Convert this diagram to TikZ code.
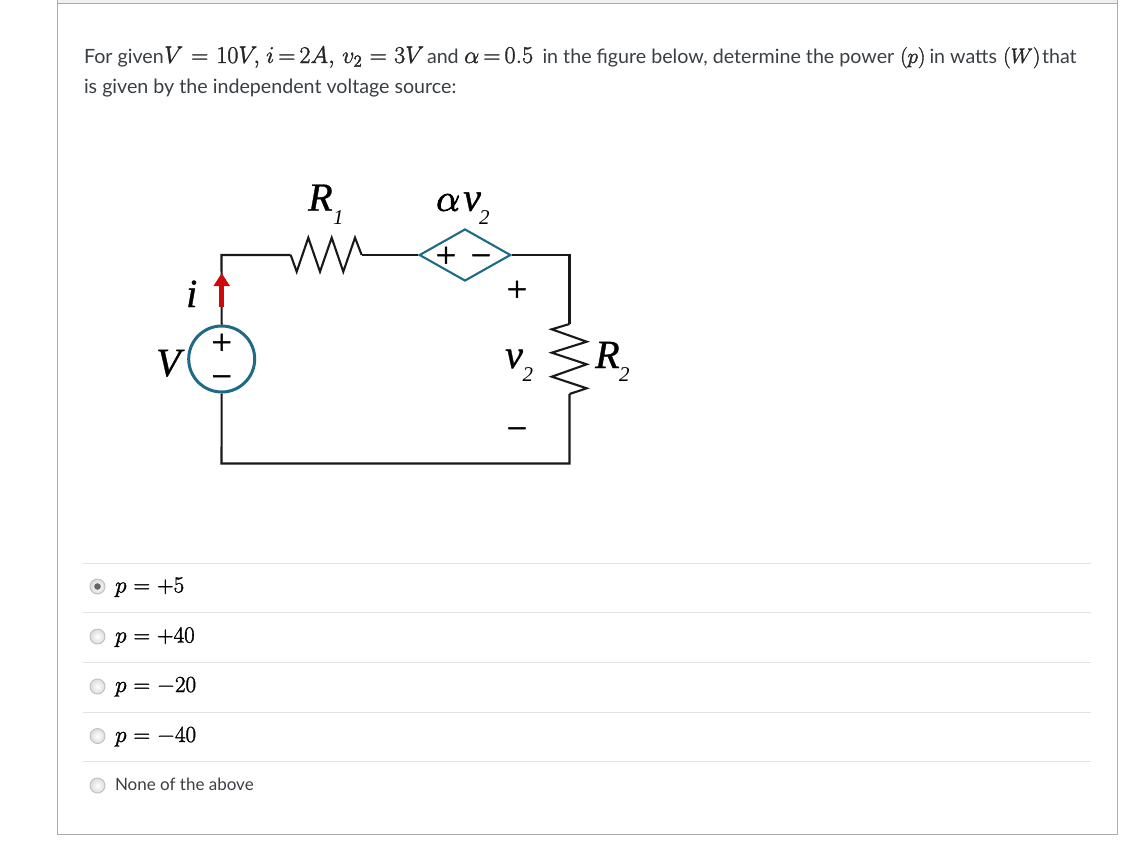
\RequirePackage{fix-cm}
\documentclass[tikz,border=0pt]{standalone}
\usepackage{fontspec}
\setmainfont{Lato}
\newfontfamily\cirfont{Liberation Serif}
\usetikzlibrary{shapes.geometric,arrows.meta}
\definecolor{teal1}{HTML}{1F6B85}
\definecolor{txt}{HTML}{3A3F44}
\definecolor{framec}{HTML}{ABABAB}
\definecolor{rulec}{HTML}{E2E2E2}
\definecolor{redc}{HTML}{CC0A0A}
\newcommand{\heavy}[1]{\special{pdf:literal 2 Tr 0.35 w}#1\special{pdf:literal 0 Tr}}
\newcommand{\heavier}[1]{\special{pdf:literal 2 Tr 0.9 w}#1\special{pdf:literal 0 Tr}}
\tikzset{
  x=1pt,y=-1pt,
  bodytext/.style={anchor=base west,inner sep=0pt,outer sep=0pt,text=txt,font=\fontsize{19.66}{24}\selectfont},
  qmath/.style={anchor=base west,inner sep=0pt,text=black!85,font=\fontsize{24}{26}\selectfont},
  qparen/.style={anchor=base west,inner sep=0pt,text=black!85,font=\fontsize{21}{24}\selectfont},
  optmath/.style={anchor=base west,inner sep=0pt,text=black,font=\fontsize{23}{26}\selectfont},
  optrule/.style={draw=rulec,line width=1pt},
  wire/.style={draw=black!90,line width=2.1pt,line join=miter},
  resist/.style={draw=black!90,line width=2.1pt,line join=miter},
  srcstyle/.style={draw=teal1,line width=3pt,fill=white,circle,minimum size=66pt,inner sep=0pt},
  depstyle/.style={draw=teal1,line width=2.1pt,fill=white,diamond,minimum width=91.5pt,minimum height=52pt,inner sep=0pt,aspect=1.75},
  big/.style={anchor=base west,inner sep=0pt,text=black,font=\cirfont\itshape\fontsize{40}{40}\selectfont},
  sub/.style={anchor=base west,inner sep=0pt,text=black,font=\cirfont\itshape\fontsize{21}{21}\selectfont},
  pm/.style={inner sep=0pt,text=black,font=\cirfont\fontsize{36}{36}\selectfont},
  radio/.style={circle,draw=black!25,line width=0.9pt,inner color=white,outer color=black!14,minimum size=15pt,inner sep=0pt},
}
\begin{document}
\begin{tikzpicture}
\useasboundingbox (0,0) rectangle (1127,841);
\fill[white] (0,0) rectangle (1127,841);
\fill[black!6] (57.5,0) rectangle (1117.5,3.5);
\draw[draw=framec,line width=1pt] (57.5,0) -- (57.5,834.5) -- (1117.5,834.5) -- (1117.5,0);
\draw[draw=framec,line width=1pt] (57.5,3.5) -- (1117.5,3.5);
% question
\node[bodytext] (q1a) at (84,63) {For given};
\node[qmath] (q1b) at (164,63) {\heavy{$\thickmuskip=6mu V=10V,$}};
\node[qmath] (q1c) at (266,63) {\heavy{$\thickmuskip=3mu i=2A,$}};
\node[qmath] (q1d) at (342,63) {\heavy{$\thickmuskip=5.5mu v_2=3V$}};
\node[bodytext] (q1e) at (427,63) {and};
\node[qmath] (q1f) at (464,63) {\heavy{$\thickmuskip=3mu \alpha=0.5$}};
\node[bodytext] (q1g) at (542.5,63) {in the figure below, determine the power};
\node[qparen] (q1h) at (900,63) {\heavy{$(p)$}};
\node[bodytext] (q1i) at (929.5,63) {in watts};
\node[qparen] (q1j) at (1003,63) {\heavy{$(W)$}};
\node[bodytext] (q1k) at (1042,63) {that};
\node[bodytext] (q2) at (84,93) {is given by the independent voltage source:};
% circuit
\coordinate (TL) at (221.5,255);
\coordinate (BL) at (221.5,463.5);
\coordinate (BR) at (569.5,463.5);
\coordinate (TR) at (569.5,255);
\coordinate (R1a) at (290.7,255);
\coordinate (R1b) at (361.7,255);
\coordinate (R2a) at (569.5,324);
\coordinate (R2b) at (569.5,394);
\node[srcstyle] (src) at (221.7,359) {};
\node[depstyle] (dep) at (465,255) {};
\draw[wire] (src.north) -- (TL) -- (R1a);
\draw[wire] (R1b) -- (dep.west);
\draw[wire] (dep.east) -- (TR) -- (R2a);
\draw[wire] (R2b) -- (BR) -- (BL) -- (src.south);
\draw[resist] (R1a) -- (296.7,271.7) -- (308.3,237.7) -- (320,271.7) -- (331.7,237.7) -- (343.3,271.7) -- (355,237.7) -- (R1b);
\draw[resist] (R2a) -- (551.7,329.3) -- (586.7,341.7) -- (551.7,352.7) -- (586.7,364.3) -- (551.7,376.7) -- (586.7,388.3) -- (R2b);
% current arrow
\coordinate (ia) at (221.7,306.7);
\coordinate (ib) at (221.7,273);
\draw[redc,line width=5.2pt,-{Triangle[length=13pt,width=15.5pt]}] (ia) -- (ib);
% labels
\node[big] (lr1) at (308,210.7) {\heavy{R}};
\node[sub] (lr1s) at (333,224) {1};
\node[big,font=\fontsize{38}{38}\selectfont] (la) at (436,210.7) {\heavier{$\alpha$}};
\node[big] (lav) at (463,210.7) {\heavy{v}};
\node[sub] (lavs) at (479,224) {2};
\node[big] (li) at (186,307) {\heavy{i}};
\node[big] (lv) at (156,376) {\heavy{V}};
\node[big] (lv2) at (505,368) {\heavy{v}};
\node[sub] (lv2s) at (522.5,381) {2};
\node[big] (lr2) at (595,368) {\heavy{R}};
\node[sub] (lr2s) at (619,381) {2};
\node[pm] (p1) at (221.7,344) {\heavy{+}};
\node[pm] (m1) at (221.7,378) {\vphantom{+}\heavy{−}};
\node[pm] (p2) at (446,257) {\heavy{+}};
\node[pm] (m2) at (481,257) {\vphantom{+}\heavy{−}};
\node[pm] (p3) at (517,291) {\heavy{+}};
\node[pm] (m3) at (517,430) {\vphantom{+}\heavy{−}};
% options
\draw[optrule] (83,563.5) -- (1091,563.5);
\draw[optrule] (83,612.5) -- (1091,612.5);
\draw[optrule] (83,662.5) -- (1091,662.5);
\draw[optrule] (83,712.5) -- (1091,712.5);
\draw[optrule] (83,761.5) -- (1091,761.5);
\node[radio] (r1) at (97.5,586.5) {};
\fill[black!60] (r1.center) circle (3.3pt);
\node[radio] (r2) at (97.5,636.5) {};
\node[radio] (r3) at (97.5,686.5) {};
\node[radio] (r4) at (97.5,736) {};
\node[radio] (r5) at (97.5,785.5) {};
\node[optmath] (o1) at (115,592.5) {\heavy{$\thickmuskip=5.5mu p=+5$}};
\node[optmath] (o2) at (115,642.5) {\heavy{$\thickmuskip=5.5mu p=+40$}};
\node[optmath] (o3) at (115,692) {\heavy{$\thickmuskip=5.5mu p=-20$}};
\node[optmath] (o4) at (115,742) {\heavy{$\thickmuskip=5.5mu p=-40$}};
\node[bodytext,font=\fontsize{17}{22}\selectfont] (o5) at (115,790) {None of the above};
\end{tikzpicture}
\end{document}
